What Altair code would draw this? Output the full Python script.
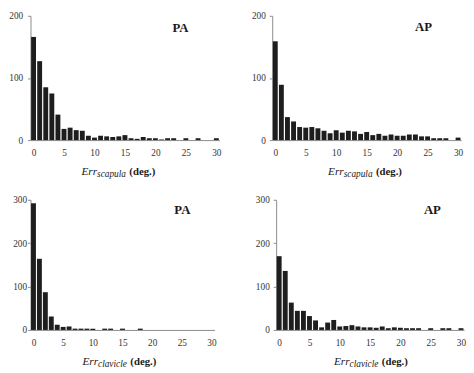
import altair as alt
import pandas as pd

err_deg = list(range(31))
pa_scapula = [166, 127, 85, 75, 41, 18, 20, 16, 15, 7, 4, 7, 6, 5, 6, 8, 3, 2, 5, 3,
              3, 1, 3, 3, 0, 3, 0, 3, 0, 0, 3]
ap_scapula = [159, 89, 37, 30, 21, 20, 21, 19, 15, 11, 16, 12, 15, 14, 10, 13, 8, 10, 7, 9,
              7, 7, 9, 9, 6, 6, 3, 3, 3, 0, 4]
pa_clavicle = [292, 164, 87, 31, 12, 7, 8, 3, 3, 3, 3, 0, 3, 3, 0, 3, 0, 0, 3, 0,
               0, 0, 0, 0, 0, 0, 0, 0, 0, 0, 0]
ap_clavicle = [170, 136, 63, 44, 44, 32, 22, 6, 17, 23, 8, 9, 11, 8, 6, 6, 5, 8, 4, 6,
               5, 4, 4, 4, 0, 4, 0, 4, 4, 0, 4]
x_ticks = [0, 5, 10, 15, 20, 25, 30]

SERIF = "Liberation Serif, Times New Roman, serif"


def spacer(x1, x2, y):
    # invisible layout guide (fixes the panel's bounding box)
    return alt.Chart(pd.DataFrame({"a": [0]})).mark_rule(opacity=0, strokeOpacity=0).encode(
        x=alt.value(x1), x2=alt.value(x2), y=alt.value(y))


def panel(counts, ymax, yticks, label, sub, W, H, lpad, title_dx, title_dy, err_dx,
          left_guide, bottom_guide):
    df = pd.DataFrame({"err": err_deg, "count": counts})
    bars = alt.Chart(df).mark_bar(size=5, color="#1e1e1e").encode(
        x=alt.X("err:Q",
                scale=alt.Scale(domain=[-0.5, 30.5], nice=False, zero=False, padding=0),
                axis=alt.Axis(values=x_ticks, ticks=False, labelPadding=8, title=None,
                              grid=False, domainColor="#8a8a8a", labelFont=SERIF,
                              labelFontSize=9.5, labelColor="#333333")),
        y=alt.Y("count:Q",
                scale=alt.Scale(domain=[0, ymax], nice=False),
                axis=alt.Axis(values=yticks, tickSize=3, tickColor="#8a8a8a",
                              labelPadding=lpad, title=None, grid=False,
                              domainColor="#8a8a8a", labelFont=SERIF, labelFontSize=9.5,
                              labelColor="#333333")),
    )
    title = alt.Chart(pd.DataFrame({"t": [label]})).mark_text(
        font=SERIF, fontSize=13, fontWeight="bold", align="left", baseline="alphabetic",
        color="#1a1a1a").encode(text="t:N", x=alt.value(title_dx), y=alt.value(title_dy))
    err = alt.Chart(pd.DataFrame({"t": ["Err"]})).mark_text(
        font=SERIF, fontSize=11.5, fontStyle="italic", align="left", baseline="alphabetic",
        color="#1a1a1a").encode(text="t:N", x=alt.value(err_dx), y=alt.value(H + 36))
    subt = alt.Chart(pd.DataFrame({"t": [sub]})).mark_text(
        font=SERIF, fontSize=9.5, fontStyle="italic", align="left", baseline="alphabetic",
        color="#1a1a1a").encode(text="t:N", x=alt.value(err_dx + 16), y=alt.value(H + 38))
    deg = alt.Chart(pd.DataFrame({"t": ["(deg.)"]})).mark_text(
        font=SERIF, fontSize=11, fontWeight="bold", align="left", baseline="alphabetic",
        color="#1a1a1a").encode(text="t:N", x=alt.value(err_dx + 49), y=alt.value(H + 36))
    layers = [bars, title, err, subt, deg,
              spacer(-left_guide, -left_guide + 1, -12),
              spacer(W + 4, W + 5, 10)]
    if bottom_guide:
        layers.append(spacer(0, 1, H + 45))
    return alt.layer(*layers).properties(width=W, height=H)


p1 = panel(pa_scapula, 200, [0, 100, 200], "PA", "scapula", 193, 127, 5, 145, 17, 52, 32.5, True)
p2 = panel(ap_scapula, 200, [0, 100, 200], "AP", "scapula", 193, 127, 4, 146, 16, 57, 30, True)
p3 = panel(pa_clavicle, 300, [0, 100, 200, 300], "PA", "clavicle", 188, 133, 1, 147, 15, 53, 29, False)
p4 = panel(ap_clavicle, 300, [0, 100, 200, 300], "AP", "clavicle", 192, 133, 4, 151, 15, 59, 30, False)

row1 = alt.hconcat(p1, p2, spacing=19)
row2 = alt.hconcat(p3, p4, spacing=28)

chart = alt.vconcat(row1, row2, spacing=4).properties(
    padding={"left": -10, "top": -8, "right": -3, "bottom": -1}
).configure_view(stroke=None)

chart.save("out.html", embed_options={"renderer": "svg", "actions": False})
